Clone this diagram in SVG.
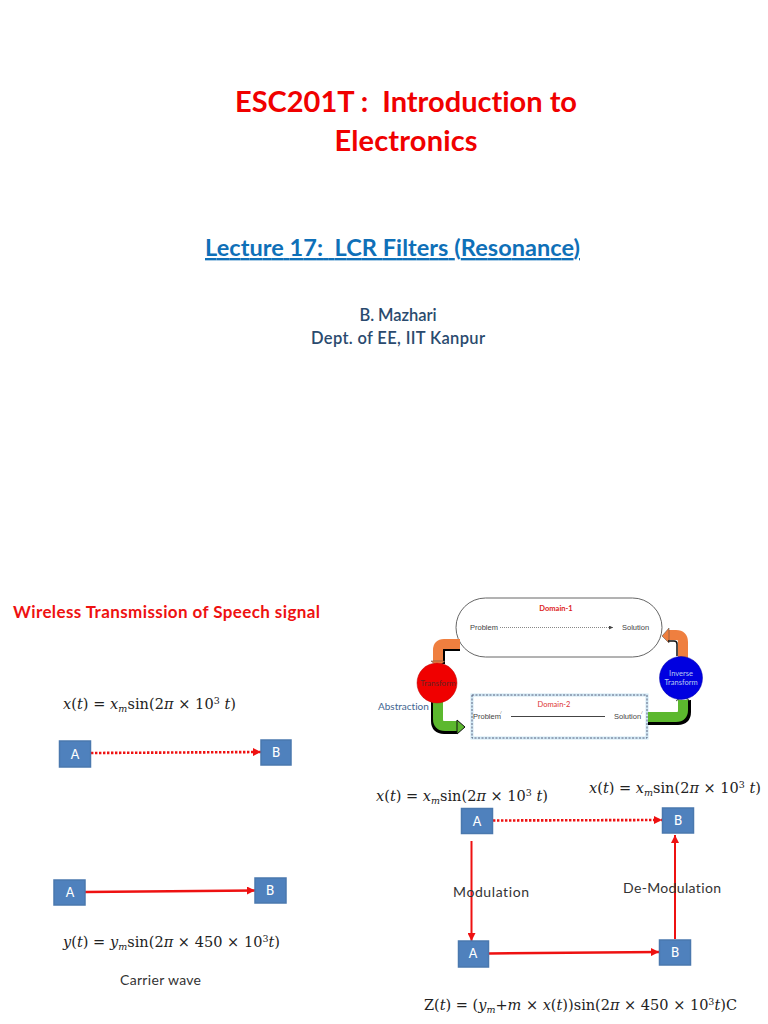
<svg xmlns="http://www.w3.org/2000/svg" width="768" height="1024" viewBox="0 0 768 1024">
<defs>
<style>
text{font-family:"Lato","Open Sans",sans-serif;font-variant-ligatures:none}
.t{font-weight:700;fill:#f00000;font-size:29px;text-anchor:middle}
.sub{font-weight:600;fill:#2a4a6e;font-size:16.5px;text-anchor:middle}
.m{font-family:"DejaVu Serif","Liberation Serif",serif;font-size:14.5px;fill:#222}
.i{font-style:italic}
.s{font-size:9.5px}
.lbl{font-size:14px;fill:#333}
.box{fill:#4f81bd;stroke:#4a78ae;stroke-width:1.5}
.bt{fill:#fff;font-size:12.5px;font-weight:500;text-anchor:middle}
.r{stroke:#ee1111;fill:none;stroke-width:2}
.h{stroke-width:2.5}
.d{stroke-width:2.6;stroke-dasharray:2.4 1.6}
.sm{font-family:"Liberation Sans",sans-serif;font-size:7.5px;fill:#444}
.or{fill:none;stroke:#ef7f3f;stroke-width:10}
.gr{fill:none;stroke:#5cb82e;stroke-width:10}
.bk{fill:none;stroke:#000;stroke-width:10}
</style>
<marker id="ah" markerUnits="userSpaceOnUse" markerWidth="9" markerHeight="8" refX="8" refY="4" orient="auto"><path d="M0 0L8 4L0 8Z" fill="#ee1111"/></marker>
<marker id="k" markerUnits="userSpaceOnUse" markerWidth="5" markerHeight="4" refX="4" refY="2" orient="auto"><path d="M0 0L4 2L0 4Z" fill="#444"/></marker>
</defs>

<g id="title">
<text class="t" x="406" y="112" textLength="342" xml:space="preserve">ESC201T :  Introduction to</text>
<text class="t" x="406" y="151" textLength="143">Electronics</text>
<text x="392.500" y="256" font-size="23.500" font-weight="700" fill="#0f70b8" text-anchor="middle" text-decoration="underline" textLength="375" xml:space="preserve">Lecture 17:  LCR Filters (Resonance)</text>
<text class="sub" x="398" y="321" textLength="77">B. Mazhari</text>
<text class="sub" x="398" y="344" textLength="174">Dept. of EE, IIT Kanpur</text>
</g>

<text x="13" y="618" font-size="17" font-weight="700" fill="#ee1111" textLength="307">Wireless Transmission of Speech signal</text>

<g id="abstraction">
<rect x="456" y="598" width="206" height="59" rx="29.500" fill="#fff" stroke="#666" stroke-width="1"/>
<text x="556" y="611" font-family="Liberation Sans" font-size="7.500" font-weight="700" fill="#dd2222" text-anchor="middle">Domain-1</text>
<text class="sm" x="470" y="630">Problem</text>
<line x1="500" y1="627.500" x2="613" y2="627.500" stroke="#555" stroke-width="0.7" stroke-dasharray="1 1" marker-end="url(#k)"/>
<text class="sm" x="622" y="630">Solution</text>
<rect x="472" y="695" width="175" height="43" fill="#fff" stroke="#d0e8f4" stroke-width="3"/>
<rect x="472" y="695" width="175" height="43" fill="none" stroke="#446" stroke-width="0.8" stroke-dasharray="2 1.500"/>
<text x="554" y="707" font-family="Liberation Sans" font-size="7.500" fill="#dd3333" text-anchor="middle">Domain-2</text>
<text class="sm" x="473" y="719">Problem</text>
<text x="500" y="714" font-family="Liberation Sans" font-size="4" fill="#444">/</text>
<line x1="511" y1="716.500" x2="605" y2="716.500" stroke="#444" stroke-width="1"/>
<text class="sm" x="614" y="719">Solution</text>
<text x="641" y="714" font-family="Liberation Sans" font-size="4" fill="#444">/</text>
<path class="bk" d="M460 646H446Q440 646 440 652V664"/>
<path class="or" d="M460 644H444Q438 644 438 650V662"/>
<path d="M431 661H445L438 667Z" fill="#ef7f3f" stroke="#444" stroke-width="0.500"/>
<path class="bk" d="M436 700V721Q436 729 444 729H458"/>
<path class="gr" d="M438 700V719Q438 726 445 726H458"/>
<path d="M457 720L465 727L457 734Z" fill="#5cb82e" stroke="#111" stroke-width="1"/>
<path class="bk" d="M648 720H678Q686 720 686 712V700"/>
<path class="gr" d="M648 717H676Q683 717 683 710V700"/>
<path d="M676 701L683 697L690 701L683 694Z" fill="#5cb82e" stroke="#333" stroke-width="0.500"/>
<path class="or" d="M683 660V642Q683 635 676 635H668"/>
<path d="M669 628L669 643L662 636Z" fill="#ef7f3f" stroke="#444" stroke-width="0.500"/>
<path d="M668 641H674Q677 641 677 644V656" fill="none" stroke="#111" stroke-width="1.500"/>
<circle cx="437" cy="683" r="20" fill="#f00000" stroke="#b11" stroke-width="0.500"/>
<text x="438" y="686" font-family="Liberation Sans" font-size="8" fill="#662222" text-anchor="middle">Transform</text>
<circle cx="681" cy="678" r="21.500" fill="#0000e0" stroke="#00a" stroke-width="0.500"/>
<text x="681" y="676" font-family="Liberation Sans" font-size="7.500" fill="#b8c8f0" text-anchor="middle">Inverse</text>
<text x="681" y="685" font-family="Liberation Sans" font-size="7.500" fill="#b8c8f0" text-anchor="middle">Transform</text>
<text x="378" y="710" font-family="Liberation Sans" font-size="10" fill="#3f6590">Abstraction</text>
</g>

<g id="connectors">
<line class="r d" x1="91" y1="753" x2="261" y2="752" marker-end="url(#ah)"/>
<line class="r h" x1="85" y1="892" x2="255" y2="890.500" marker-end="url(#ah)"/>
<line class="r d" x1="493" y1="820.500" x2="662" y2="820" marker-end="url(#ah)"/>
<line class="r" x1="471.500" y1="841" x2="471.500" y2="941" marker-end="url(#ah)"/>
<line class="r h" x1="489" y1="953.500" x2="659" y2="952" marker-end="url(#ah)"/>
<line class="r" x1="675" y1="939" x2="675" y2="835" marker-end="url(#ah)"/>
</g>

<g id="node-a1"><rect class="box" x="59.500" y="741" width="31" height="26"/><text class="bt" x="75" y="759">A</text></g>
<g id="node-b1"><rect class="box" x="261" y="740" width="30" height="25"/><text class="bt" x="276" y="757">B</text></g>
<g id="node-a2"><rect class="box" x="54" y="880" width="31" height="25"/><text class="bt" x="70" y="897">A</text></g>
<g id="node-b2"><rect class="box" x="255" y="878" width="31" height="25"/><text class="bt" x="270" y="895">B</text></g>
<g id="node-a3"><rect class="box" x="461.500" y="808.500" width="31" height="25"/><text class="bt" x="477" y="826">A</text></g>
<g id="node-b3"><rect class="box" x="662.500" y="808" width="31" height="25"/><text class="bt" x="678" y="825">B</text></g>
<g id="node-a4"><rect class="box" x="458.500" y="941" width="30" height="26"/><text class="bt" x="473" y="958">A</text></g>
<g id="node-b4"><rect class="box" x="659.500" y="940" width="31" height="25"/><text class="bt" x="675" y="957">B</text></g>

<g id="formulas">
<text class="m" x="63" y="709" textLength="173" xml:space="preserve"><tspan class="i">x</tspan>(<tspan class="i">t</tspan>) = <tspan class="i">x</tspan><tspan class="i s" dy="3">m</tspan><tspan dy="-3">sin(2</tspan><tspan class="i">π</tspan> × 10<tspan class="s" dy="-5">3</tspan><tspan class="i" dy="5"> t</tspan>)</text>
<text class="m" x="376" y="801" textLength="172" xml:space="preserve"><tspan class="i">x</tspan>(<tspan class="i">t</tspan>) = <tspan class="i">x</tspan><tspan class="i s" dy="3">m</tspan><tspan dy="-3">sin(2</tspan><tspan class="i">π</tspan> × 10<tspan class="s" dy="-5">3</tspan><tspan class="i" dy="5"> t</tspan>)</text>
<text class="m" x="589" y="793" textLength="172" xml:space="preserve"><tspan class="i">x</tspan>(<tspan class="i">t</tspan>) = <tspan class="i">x</tspan><tspan class="i s" dy="3">m</tspan><tspan dy="-3">sin(2</tspan><tspan class="i">π</tspan> × 10<tspan class="s" dy="-5">3</tspan><tspan class="i" dy="5"> t</tspan>)</text>
<text class="m" x="63" y="947" textLength="217" xml:space="preserve"><tspan class="i">y</tspan>(<tspan class="i">t</tspan>) = <tspan class="i">y</tspan><tspan class="i s" dy="3">m</tspan><tspan dy="-3">sin(2</tspan><tspan class="i">π</tspan> × 450 × 10<tspan class="s" dy="-5">3</tspan><tspan class="i" dy="5">t</tspan>)</text>
<text class="m" x="424" y="1010" textLength="313" xml:space="preserve">Z(<tspan class="i">t</tspan>) = (<tspan class="i">y</tspan><tspan class="i s" dy="3">m</tspan><tspan dy="-3">+</tspan><tspan class="i">m</tspan> × <tspan class="i">x</tspan>(<tspan class="i">t</tspan>))sin(2<tspan class="i">π</tspan> × 450 × 10<tspan class="s" dy="-5">3</tspan><tspan class="i" dy="5">t</tspan>)C</text>
<text class="lbl" x="120" y="985" textLength="81">Carrier wave</text>
<text class="lbl" x="453" y="897" textLength="76">Modulation</text>
<text class="lbl" x="623" y="893" textLength="98">De-Modulation</text>
</g>
</svg>
